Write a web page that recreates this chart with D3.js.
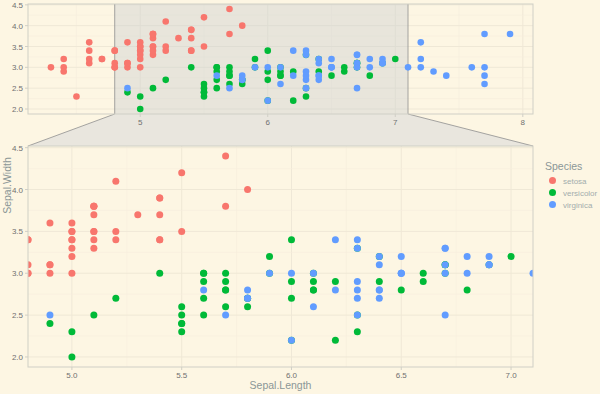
<!DOCTYPE html>
<html>
<head>
<meta charset="utf-8">
<script src="https://cdnjs.cloudflare.com/ajax/libs/d3/7.8.5/d3.min.js"></script>
<style>
  body { margin: 0; background: #fdf6e3; }
  text { font-family: "Liberation Sans", Arial, sans-serif; }
</style>
</head>
<body>
<div id="chart"></div>
<script>
// iris data, Sepal.Length / Sepal.Width per species
let setosaLength = [5.1,4.9,4.7,4.6,5.0,5.4,4.6,5.0,4.4,4.9,5.4,4.8,4.8,4.3,5.8,5.7,5.4,5.1,5.7,5.1,5.4,5.1,4.6,5.1,4.8,5.0,5.0,5.2,5.2,4.7,4.8,5.4,5.2,5.5,4.9,5.0,5.5,4.9,4.4,5.1,5.0,4.5,4.4,5.0,5.1,4.8,5.1,4.6,5.3,5.0];
let setosaWidth = [3.5,3.0,3.2,3.1,3.6,3.9,3.4,3.4,2.9,3.1,3.7,3.4,3.0,3.0,4.0,4.4,3.9,3.5,3.8,3.8,3.4,3.7,3.6,3.3,3.4,3.0,3.4,3.5,3.4,3.2,3.1,3.4,4.1,4.2,3.1,3.2,3.5,3.6,3.0,3.4,3.5,2.3,3.2,3.5,3.8,3.0,3.8,3.2,3.7,3.3];
let versicolorLength = [7.0,6.4,6.9,5.5,6.5,5.7,6.3,4.9,6.6,5.2,5.0,5.9,6.0,6.1,5.6,6.7,5.6,5.8,6.2,5.6,5.9,6.1,6.3,6.1,6.4,6.6,6.8,6.7,6.0,5.7,5.5,5.5,5.8,6.0,5.4,6.0,6.7,6.3,5.6,5.5,5.5,6.1,5.8,5.0,5.6,5.7,5.7,6.2,5.1,5.7];
let versicolorWidth = [3.2,3.2,3.1,2.3,2.8,2.8,3.3,2.4,2.9,2.7,2.0,3.0,2.2,2.9,2.9,3.1,3.0,2.7,2.2,2.5,3.2,2.8,2.5,2.8,2.9,3.0,2.8,3.0,2.9,2.6,2.4,2.4,2.7,2.7,3.0,3.4,3.1,2.3,3.0,2.5,2.6,3.0,2.6,2.3,2.7,3.0,2.9,2.9,2.5,2.8];
let virginicaLength = [6.3,5.8,7.1,6.3,6.5,7.6,4.9,7.3,6.7,7.2,6.5,6.4,6.8,5.7,5.8,6.4,6.5,7.7,7.7,6.0,6.9,5.6,7.7,6.3,6.7,7.2,6.2,6.1,6.4,7.2,7.4,7.9,6.4,6.3,6.1,7.7,6.3,6.4,6.0,6.9,6.7,6.9,5.8,6.8,6.7,6.7,6.3,6.5,6.2,5.9];
let virginicaWidth = [3.3,2.7,3.0,2.9,3.0,3.0,2.5,2.9,2.5,3.6,3.2,2.7,3.0,2.5,2.8,3.2,3.0,3.8,2.6,2.2,3.2,2.8,2.8,2.7,3.3,3.2,2.8,3.0,2.8,3.0,2.8,3.8,2.8,2.8,2.6,3.0,3.4,3.1,3.0,3.1,3.1,3.1,2.7,3.2,3.3,3.0,2.5,3.0,3.4,3.0];

let species = ["setosa", "versicolor", "virginica"];
let speciesColors = ["#F8766D", "#00BA38", "#619CFF"];
let zoomRange = [4.8, 7.1];
let topXTicks = [5, 6, 7, 8];
let yTicks = [2.0, 2.5, 3.0, 3.5, 4.0, 4.5];
let zoomXTicks = [5.0, 5.5, 6.0, 6.5, 7.0];

let width = 600, height = 394;
let left = 28, right = 533;
let topPanel = {y0: 4, y1: 114};
let zoomPanel = {y0: 146, y1: 367};

let colorMajor = '#efe8d6', colorMinor = '#f6efdd';
let colorBorder = '#d0cfc6', colorEdge = '#8f8f8f';
let colorTick = '#707070', colorTitle = '#8b9797';

let points = [];
let lengths = [setosaLength, versicolorLength, virginicaLength];
let widths = [setosaWidth, versicolorWidth, virginicaWidth];
species.forEach((s, k) => {
    lengths[k].forEach((v, i) => points.push({x: v, y: widths[k][i], species: s}));
});

let color = d3.scaleOrdinal().domain(species).range(speciesColors);

// expansion like ggplot: 5% on each side
let xExt = d3.extent(points, d => d.x), yExt = d3.extent(points, d => d.y);
let xPad = (xExt[1] - xExt[0]) * 0.05, yPad = (yExt[1] - yExt[0]) * 0.05;

let xTop = d3.scaleLinear().domain([xExt[0] - xPad, xExt[1] + xPad]).range([left, right]);
let yTop = d3.scaleLinear().domain([yExt[0] - yPad, yExt[1] + yPad]).range([topPanel.y1, topPanel.y0]);
let xZoom = d3.scaleLinear().domain(zoomRange).range([left, right]);
let yZoom = d3.scaleLinear().domain(yTop.domain()).range([zoomPanel.y1, zoomPanel.y0]);

let svg = d3.select("#chart").append("svg")
    .attr("width", width)
    .attr("height", height);

svg.append("rect").attr("width", width).attr("height", height).attr("fill", "#fdf6e3");

function stepTicks(domain, step) {
    let out = [];
    for (let v = Math.ceil(domain[0] / step) * step; v <= domain[1] + 1e-9; v += step) out.push(+v.toFixed(3));
    return out;
}

function drawGrid(g, x, y, y0, y1, xStep) {
    let xMinor = stepTicks(x.domain(), xStep / 2);
    let yMinor = stepTicks(y.domain(), 0.25);
    xMinor.forEach(v => {
        let major = Math.abs(v / xStep - Math.round(v / xStep)) < 1e-6;
        g.append("line")
            .attr("x1", x(v)).attr("x2", x(v)).attr("y1", y0).attr("y2", y1)
            .attr("stroke", major ? colorMajor : colorMinor).attr("stroke-width", major ? 1 : 0.6);
    });
    yMinor.forEach(v => {
        let major = Math.abs(v * 2 - Math.round(v * 2)) < 1e-6;
        g.append("line")
            .attr("x1", left).attr("x2", right).attr("y1", y(v)).attr("y2", y(v))
            .attr("stroke", major ? colorMajor : colorMinor).attr("stroke-width", major ? 1 : 0.6);
    });
}

function drawYAxis(y) {
    let g = svg.append("g");
    yTicks.forEach(v => {
        g.append("line").attr("x1", left - 3).attr("x2", left).attr("y1", y(v)).attr("y2", y(v))
            .attr("stroke", colorBorder);
        g.append("text").attr("x", left - 5).attr("y", y(v) + 3)
            .attr("text-anchor", "end").attr("font-size", 8).attr("fill", colorTick)
            .text(d3.format(".1f")(v));
    });
}

// trapezoid from zoom region to zoom panel
let zx0 = xTop(zoomRange[0]), zx1 = xTop(zoomRange[1]);
svg.append("path")
    .attr("d", `M${zx0},${topPanel.y1}L${zx1},${topPanel.y1}L${right},${zoomPanel.y0}L${left},${zoomPanel.y0}Z`)
    .attr("fill", "#e9e6de");
svg.append("line").attr("x1", zx0).attr("y1", topPanel.y1).attr("x2", left).attr("y2", zoomPanel.y0)
    .attr("stroke", colorEdge).attr("stroke-width", 0.8);
svg.append("line").attr("x1", zx1).attr("y1", topPanel.y1).attr("x2", right).attr("y2", zoomPanel.y0)
    .attr("stroke", colorEdge).attr("stroke-width", 0.8);

// top overview panel
let gTop = svg.append("g");
drawGrid(gTop, xTop, yTop, topPanel.y0, topPanel.y1, 1);
gTop.append("rect")
    .attr("x", zx0).attr("y", topPanel.y0).attr("width", zx1 - zx0).attr("height", topPanel.y1 - topPanel.y0)
    .attr("fill", "#c9cdd0").attr("fill-opacity", 0.4);
[zx0, zx1].forEach(x => gTop.append("line").attr("x1", x).attr("x2", x)
    .attr("y1", topPanel.y0).attr("y2", topPanel.y1).attr("stroke", colorEdge).attr("stroke-width", 0.8));
gTop.selectAll(".pt").data(points).enter().append("circle")
    .attr("cx", d => xTop(d.x)).attr("cy", d => yTop(d.y)).attr("r", 3.3)
    .attr("fill", d => color(d.species));
gTop.append("rect").attr("x", left).attr("y", topPanel.y0).attr("width", right - left)
    .attr("height", topPanel.y1 - topPanel.y0).attr("fill", "none").attr("stroke", colorBorder);
topXTicks.forEach(v => {
    svg.append("line").attr("x1", xTop(v)).attr("x2", xTop(v)).attr("y1", topPanel.y1).attr("y2", topPanel.y1 + 3)
        .attr("stroke", colorBorder);
    svg.append("text").attr("x", xTop(v)).attr("y", topPanel.y1 + 11)
        .attr("text-anchor", "middle").attr("font-size", 8).attr("fill", colorTick).text(v);
});
drawYAxis(yTop);

// zoomed panel
svg.append("clipPath").attr("id", "clipZoom").append("rect")
    .attr("x", left).attr("y", zoomPanel.y0).attr("width", right - left).attr("height", zoomPanel.y1 - zoomPanel.y0);
let gZoom = svg.append("g");
drawGrid(gZoom, xZoom, yZoom, zoomPanel.y0, zoomPanel.y1, 0.5);
gZoom.append("g").attr("clip-path", "url(#clipZoom)")
    .selectAll(".pt").data(points).enter().append("circle")
    .attr("cx", d => xZoom(d.x)).attr("cy", d => yZoom(d.y)).attr("r", 3.5)
    .attr("fill", d => color(d.species));
gZoom.append("rect").attr("x", left).attr("y", zoomPanel.y0).attr("width", right - left)
    .attr("height", zoomPanel.y1 - zoomPanel.y0).attr("fill", "none").attr("stroke", colorBorder);
zoomXTicks.forEach(v => {
    svg.append("line").attr("x1", xZoom(v)).attr("x2", xZoom(v)).attr("y1", zoomPanel.y1).attr("y2", zoomPanel.y1 + 3)
        .attr("stroke", colorBorder);
    svg.append("text").attr("x", xZoom(v)).attr("y", zoomPanel.y1 + 11)
        .attr("text-anchor", "middle").attr("font-size", 8).attr("fill", colorTick).text(d3.format(".1f")(v));
});
drawYAxis(yZoom);

// axis titles
svg.append("text").attr("x", (left + right) / 2).attr("y", 389)
    .attr("text-anchor", "middle").attr("font-size", 10.5).attr("fill", colorTitle).text("Sepal.Length");
svg.append("text")
    .attr("transform", `translate(11,${(topPanel.y0 + zoomPanel.y1) / 2}) rotate(-90)`)
    .attr("text-anchor", "middle").attr("font-size", 10.5).attr("fill", colorTitle).text("Sepal.Width");

// legend
let legend = svg.append("g").attr("transform", "translate(545,0)");
legend.append("text").attr("x", 0).attr("y", 170).attr("font-size", 10.5).attr("fill", colorTitle).text("Species");
species.forEach((s, i) => {
    legend.append("circle").attr("cx", 7.5).attr("cy", 180.5 + i * 12).attr("r", 3.5).attr("fill", color(s));
    legend.append("text").attr("x", 18).attr("y", 183.5 + i * 12).attr("font-size", 8)
        .attr("fill", "#a3adad").text(s);
});
</script>
</body>
</html>
